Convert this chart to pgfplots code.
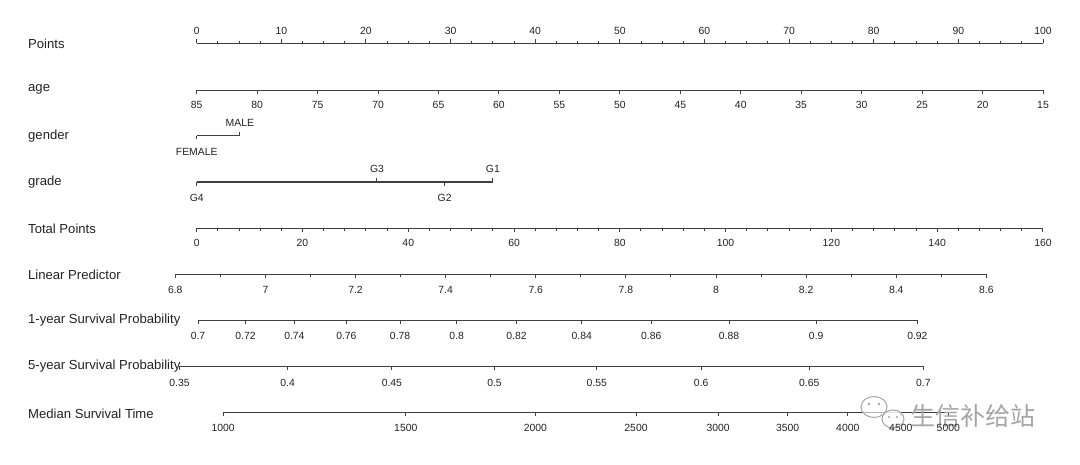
\documentclass[border=0pt]{standalone}
\usepackage{fontspec}
\setmainfont{Liberation Sans}
\newfontfamily\cjk{Noto Sans CJK SC}
\usepackage{pgfplots}
\pgfplotsset{compat=1.18}
\usepackage{pgfplotstable}

\definecolor{axcol}{HTML}{404040}
\definecolor{txtcol}{HTML}{222222}
\definecolor{wmcol}{HTML}{A6A6A6}

\newcommand{\lab}{\fontsize{10.4}{12}\selectfont}
\newcommand{\ttl}{\fontsize{13.1}{15}\selectfont}

% points scale: major ticks (labelled) and minor ticks
\pgfplotstableread{
p lab
0 0
10 10
20 20
30 30
40 40
50 50
60 60
70 70
80 80
90 90
100 100
}\ptsmaj
\pgfplotstableread{
p k
2.5 1
5 1
7.5 1
12.5 1
15 1
17.5 1
22.5 1
25 1
27.5 1
32.5 1
35 1
37.5 1
42.5 1
45 1
47.5 1
52.5 1
55 1
57.5 1
62.5 1
65 1
67.5 1
72.5 1
75 1
77.5 1
82.5 1
85 1
87.5 1
92.5 1
95 1
97.5 1
}\ptsmin

% age: 85 -> 0 points, 15 -> 100 points
\pgfplotstableread{
a lab
85 85
80 80
75 75
70 70
65 65
60 60
55 55
50 50
45 45
40 40
35 35
30 30
25 25
20 20
15 15
}\age

% gender / grade: points per level
\pgfplotstableread{
p lab
0 FEMALE
}\gendn
\pgfplotstableread{
p lab
5.1 MALE
}\genup
\pgfplotstableread{
p lab
0 G4
29.3 G2
}\grdn
\pgfplotstableread{
p lab
21.3 G3
35.0 G1
}\grup

% total points
\pgfplotstableread{
t lab
0 0
20 20
40 40
60 60
80 80
100 100
120 120
140 140
160 160
}\totmaj
\pgfplotstableread{
t k
4 1
8 1
12 1
16 1
24 1
28 1
32 1
36 1
44 1
48 1
52 1
56 1
64 1
68 1
72 1
76 1
84 1
88 1
92 1
96 1
104 1
108 1
112 1
116 1
124 1
128 1
132 1
136 1
144 1
148 1
152 1
156 1
}\totmin

% linear predictor
\pgfplotstableread{
v lab
6.8 6.8
7.0 7
7.2 7.2
7.4 7.4
7.6 7.6
7.8 7.8
8.0 8
8.2 8.2
8.4 8.4
8.6 8.6
}\lpmaj
\pgfplotstableread{
v k
6.9 1
7.1 1
7.3 1
7.5 1
7.7 1
7.9 1
8.1 1
8.3 1
8.5 1
}\lpmin

% survival scales (pixel position along the page, label)
\pgfplotstableread{
x lab
198.0 0.7
245.5 0.72
294.4 0.74
346.4 0.76
400.1 0.78
456.6 0.8
516.5 0.82
581.7 0.84
651.2 0.86
729.0 0.88
816.2 0.9
917.4 0.92
}\surva
\pgfplotstableread{
x lab
179.5 0.35
287.6 0.4
391.9 0.45
494.5 0.5
596.8 0.55
701.2 0.6
809.3 0.65
923.3 0.7
}\survb
\pgfplotstableread{
x lab
223.1 1000
405.8 1500
535.4 2000
636.0 2500
718.1 3000
787.6 3500
847.8 4000
900.8 4500
948.3 5000
}\medt

\pgfplotsset{
  nomline/.style={line width=1.3pt, draw=axcol, mark=none},
  tk/.style={quiver={u=0,v=#1}, -, line width=1pt, draw=axcol},
  ticklab/.style={only marks, mark=*, mark size=0pt,
    mark options={draw=none,fill=none},
    nodes near coords, point meta=explicit symbolic,
    nodes near coords style={anchor=center, inner sep=0pt, font=\lab, text=txtcol}},
}

\begin{document}
\begin{tikzpicture}
\begin{axis}[
    width=1080pt, height=465pt, scale only axis,
    xmin=0, xmax=1080, ymin=0, ymax=465,
    y dir=reverse,
    hide axis, clip=false,
]
\path (rel axis cs:0,0) rectangle (rel axis cs:1,1);

% Points
\addplot[nomline] coordinates {(196.7,43.5) (1043,43.5)};
\addplot[tk=-4] table[x expr=196.7+8.463*\thisrow{p}, y expr=43.5] {\ptsmaj};
\addplot[tk=-2.6] table[x expr=196.7+8.463*\thisrow{p}, y expr=43.5] {\ptsmin};
\addplot[ticklab] table[x expr=196.7+8.463*\thisrow{p}, y expr=30.7, meta=lab] {\ptsmaj};

% age
\addplot[nomline] coordinates {(196.7,90.3) (1043,90.3)};
\addplot[tk=3.6] table[x expr=196.7+12.09*(85-\thisrow{a}), y expr=90.3] {\age};
\addplot[ticklab] table[x expr=196.7+12.09*(85-\thisrow{a}), y expr=105.3, meta=lab] {\age};

% gender
\addplot[nomline] coordinates {(196.7,135.7) (240,135.7)};
\addplot[tk=3.6] table[x expr=196.7+8.463*\thisrow{p}, y expr=135.7] {\gendn};
\addplot[tk=-3.6] table[x expr=196.7+8.463*\thisrow{p}, y expr=135.7] {\genup};
\addplot[ticklab] table[x expr=196.7+8.463*\thisrow{p}, y expr=151.7, meta=lab] {\gendn};
\addplot[ticklab] table[x expr=196.7+8.463*\thisrow{p}, y expr=123.3, meta=lab] {\genup};

% grade
\addplot[nomline] coordinates {(196.7,182) (493.1,182)};
\addplot[tk=3.6] table[x expr=196.7+8.463*\thisrow{p}, y expr=182] {\grdn};
\addplot[tk=-3.6] table[x expr=196.7+8.463*\thisrow{p}, y expr=182] {\grup};
\addplot[ticklab] table[x expr=196.7+8.463*\thisrow{p}, y expr=198, meta=lab] {\grdn};
\addplot[ticklab] table[x expr=196.7+8.463*\thisrow{p}, y expr=169.3, meta=lab] {\grup};

% Total Points
\addplot[nomline] coordinates {(196.7,228.2) (1043,228.2)};
\addplot[tk=4] table[x expr=196.7+5.289*\thisrow{t}, y expr=228.2] {\totmaj};
\addplot[tk=2.6] table[x expr=196.7+5.289*\thisrow{t}, y expr=228.2] {\totmin};
\addplot[ticklab] table[x expr=196.7+5.289*\thisrow{t}, y expr=243.3, meta=lab] {\totmaj};

% Linear Predictor
\addplot[nomline] coordinates {(175.3,274.3) (986.3,274.3)};
\addplot[tk=4] table[x expr=175.3+450.6*(\thisrow{v}-6.8), y expr=274.3] {\lpmaj};
\addplot[tk=2.6] table[x expr=175.3+450.6*(\thisrow{v}-6.8), y expr=274.3] {\lpmin};
\addplot[ticklab] table[x expr=175.3+450.6*(\thisrow{v}-6.8), y expr=289.6, meta=lab] {\lpmaj};

% 1-year Survival Probability
\addplot[nomline] coordinates {(198,320.2) (917.4,320.2)};
\addplot[tk=4] table[x=x, y expr=320.2] {\surva};
\addplot[ticklab] table[x=x, y expr=336, meta=lab] {\surva};

% 5-year Survival Probability
\addplot[nomline] coordinates {(179.5,366.3) (923.3,366.3)};
\addplot[tk=4] table[x=x, y expr=366.3] {\survb};
\addplot[ticklab] table[x=x, y expr=382.5, meta=lab] {\survb};

% Median Survival Time
\addplot[nomline] coordinates {(223.1,412.3) (948.3,412.3)};
\addplot[tk=4] table[x=x, y expr=412.3] {\medt};
\addplot[ticklab] table[x=x, y expr=428.3, meta=lab] {\medt};

% row names
\begin{scope}[every node/.style={anchor=west, inner sep=0pt, font=\ttl, text=txtcol}]
\node at (axis cs:28,44.3) {Points};
\node at (axis cs:28,89) {age};
\node at (axis cs:28,135.7) {gender};
\node at (axis cs:28,182) {grade};
\node at (axis cs:28,229) {Total Points};
\node at (axis cs:28,275) {Linear Predictor};
\node at (axis cs:28,320.3) {1-year Survival Probability};
\node at (axis cs:28,366) {5-year Survival Probability};
\node at (axis cs:28,413.7) {Median Survival Time};
\end{scope}

% watermark
\draw[wmcol, line width=1pt, fill=white, fill opacity=0.6]
  (axis cs:874,407) ellipse [x radius=13pt, y radius=10.5pt];
\draw[wmcol, line width=1pt, fill=white, fill opacity=0.85]
  (axis cs:893,419) ellipse [x radius=11pt, y radius=9pt];
\fill[wmcol] (axis cs:869,404) circle[radius=1.3pt] (axis cs:879,404) circle[radius=1.3pt]
  (axis cs:889,417) circle[radius=1.1pt] (axis cs:897,417) circle[radius=1.1pt];
\node[anchor=west, inner sep=0pt, text=wmcol, font=\cjk\fontsize{25}{25}\selectfont]
  at (axis cs:910,416) {生信补给站};
\end{axis}
\end{tikzpicture}
\end{document}
